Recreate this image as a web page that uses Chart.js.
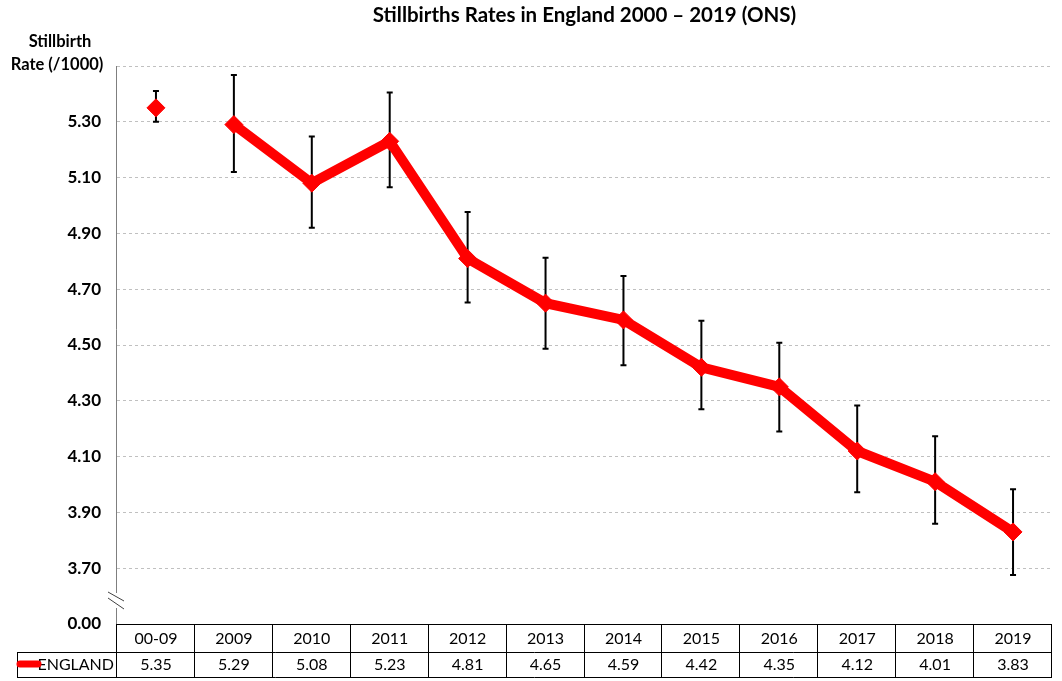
<!DOCTYPE html>
<html>
<head>
<meta charset="utf-8">
<script src="https://cdn.jsdelivr.net/npm/chart.js@4/dist/chart.umd.min.js"></script>
<style>
  html, body { margin: 0; padding: 0; background: #fff; }
  #wrap { position: relative; width: 1062px; height: 681px; }
</style>
</head>
<body>
<div id="wrap"><canvas id="stillbirth-chart"></canvas></div>
<script>
// ============================================================
// Data
// ============================================================
var categories = ['00-09', '2009', '2010', '2011', '2012', '2013', '2014', '2015', '2016', '2017', '2018', '2019'];
var rates      = [5.35, 5.29, 5.08, 5.23, 4.81, 4.65, 4.59, 4.42, 4.35, 4.12, 4.01, 3.83];
var errLow     = [5.30, 5.12, 4.92, 5.065, 4.652, 4.487, 4.427, 4.27, 4.19, 3.972, 3.859, 3.676];
var errHigh    = [5.41, 5.468, 5.247, 5.405, 4.977, 4.813, 4.747, 4.587, 4.508, 4.283, 4.173, 3.983];
var yTicks     = [3.5, 3.7, 3.9, 4.1, 4.3, 4.5, 4.7, 4.9, 5.1, 5.3, 5.5];
var seriesName = 'ENGLAND';
var titleText  = 'Stillbirths Rates in England 2000 \u2013 2019 (ONS)';

var RED  = '#FF0000';
var FONT = 'Lato, "Open Sans", sans-serif';
var BREAK_VALUE = 3.5;   // bottom of the broken axis, labelled 0.00
var TOP_VALUE   = 5.5;   // top gridline, no label (axis title sits there)

// ============================================================
// Plugins: error bars, axis with break, data table, titles
// ============================================================
var errorBars = {
  id: 'errorBars',
  beforeDatasetsDraw: function(chart) {
    var x = chart.scales.x, y = chart.scales.y, ctx = chart.ctx;
    ctx.save();
    ctx.strokeStyle = '#000';
    ctx.lineWidth = 2;
    categories.forEach(function(c, i) {
      var px = x.getPixelForValue(i);
      var top = y.getPixelForValue(errHigh[i]);
      var bot = y.getPixelForValue(errLow[i]);
      ctx.beginPath();
      ctx.moveTo(px, top); ctx.lineTo(px, bot);
      ctx.moveTo(px - 3, top); ctx.lineTo(px + 3, top);
      ctx.moveTo(px - 3, bot); ctx.lineTo(px + 3, bot);
      ctx.stroke();
    });
    ctx.restore();
  }
};

var extras = {
  id: 'extras',
  afterDraw: function(chart) {
    var ctx = chart.ctx, area = chart.chartArea, x = chart.scales.x;
    var left = area.left, right = area.right, top = area.bottom;
    var mid = top + 28, bottom = top + 53;
    ctx.save();

    // y axis line with break marks
    ctx.strokeStyle = '#7f7f7f';
    ctx.lineWidth = 1;
    ctx.beginPath();
    ctx.moveTo(left - 0.5, area.top); ctx.lineTo(left - 0.5, area.bottom - 31);
    ctx.moveTo(left - 0.5, area.bottom - 16); ctx.lineTo(left - 0.5, area.bottom);
    ctx.stroke();
    ctx.strokeStyle = '#404040';
    ctx.beginPath();
    ctx.moveTo(left - 9, area.bottom - 32); ctx.lineTo(left + 7, area.bottom - 23);
    ctx.moveTo(left - 9, area.bottom - 26); ctx.lineTo(left + 7, area.bottom - 15);
    ctx.stroke();

    // data table grid
    var legLeft = 17;
    ctx.strokeStyle = '#000';
    ctx.lineWidth = 1;
    ctx.beginPath();
    ctx.moveTo(left, top + 0.5);  ctx.lineTo(right, top + 0.5);
    ctx.moveTo(legLeft, mid + 0.5); ctx.lineTo(right, mid + 0.5);
    ctx.moveTo(legLeft, bottom + 0.5); ctx.lineTo(right, bottom + 0.5);
    ctx.moveTo(legLeft + 0.5, mid); ctx.lineTo(legLeft + 0.5, bottom);
    var step = (right - left) / categories.length;
    for (var i = 0; i <= categories.length; i++) {
      var vx = Math.round(left + i * step) - 0.5;
      ctx.moveTo(vx, top); ctx.lineTo(vx, bottom);
    }
    ctx.stroke();

    // table text
    ctx.fillStyle = '#000';
    ctx.font = '16px ' + FONT;
    ctx.textAlign = 'center';
    ctx.textBaseline = 'middle';
    categories.forEach(function(c, i) {
      var px = x.getPixelForValue(i);
      ctx.fillText(c, px, top + 15);
      ctx.fillText(rates[i].toFixed(2), px, mid + 13);
    });

    // legend key in table
    ctx.textAlign = 'right';
    ctx.fillText(seriesName, left - 3, mid + 13);
    ctx.strokeStyle = RED;
    ctx.lineWidth = 7;
    ctx.lineCap = 'round';
    ctx.beginPath();
    ctx.moveTo(legLeft + 3, mid + 12); ctx.lineTo(legLeft + 21, mid + 12);
    ctx.stroke();

    // title and axis title
    ctx.font = 'bold 20.5px ' + FONT;
    ctx.textAlign = 'center';
    ctx.fillText(titleText, (left + right) / 2, 15);
    ctx.font = 'bold 16.5px ' + FONT;
    ctx.fillText('Stillbirth', 60, 42);
    ctx.fillText('Rate (/1000)', 57, 65);
    ctx.restore();
  }
};

// ============================================================
// Chart
// ============================================================
new Chart(document.getElementById('stillbirth-chart'), {
  type: 'line',
  data: {
    labels: categories,
    datasets: [{
      label: seriesName,
      data: rates,
      borderColor: RED,
      backgroundColor: RED,
      borderWidth: 10,
      pointStyle: 'rectRot',
      pointRadius: 9,
      pointBorderWidth: 1,
      pointBorderColor: RED,
      pointBackgroundColor: RED,
      tension: 0,
      segment: {
        borderColor: function(ctx) { return ctx.p0DataIndex === 0 ? 'rgba(0,0,0,0)' : RED; }
      }
    }]
  },
  options: {
    responsive: true,
    maintainAspectRatio: false,
    animation: false,
    layout: { padding: { top: 66, right: 6, bottom: 57, left: 0 } },
    plugins: {
      legend: { display: false },
      tooltip: { enabled: false }
    },
    scales: {
      x: {
        display: false,
        offset: true
      },
      y: {
        min: 3.5,
        max: 5.5,
        afterFit: function(scale) { scale.width = 117; },
        afterBuildTicks: function(scale) {
          scale.ticks = yTicks.map(function(v) { return { value: v }; });
        },
        ticks: {
          padding: 16,
          color: '#000',
          font: { family: FONT, size: 17, weight: 'bold' },
          callback: function(v) {
            if (v === TOP_VALUE) return '';
            return v === BREAK_VALUE ? '0.00' : Number(v).toFixed(2);
          }
        },
        grid: {
          drawTicks: false,
          color: function(ctx) {
            return ctx.tick && ctx.tick.value === BREAK_VALUE ? 'rgba(0,0,0,0)' : '#c0c0c0';
          }
        },
        border: { display: false, dash: [3, 3] }
      }
    }
  },
  plugins: [errorBars, extras]
});
</script>
</body>
</html>
